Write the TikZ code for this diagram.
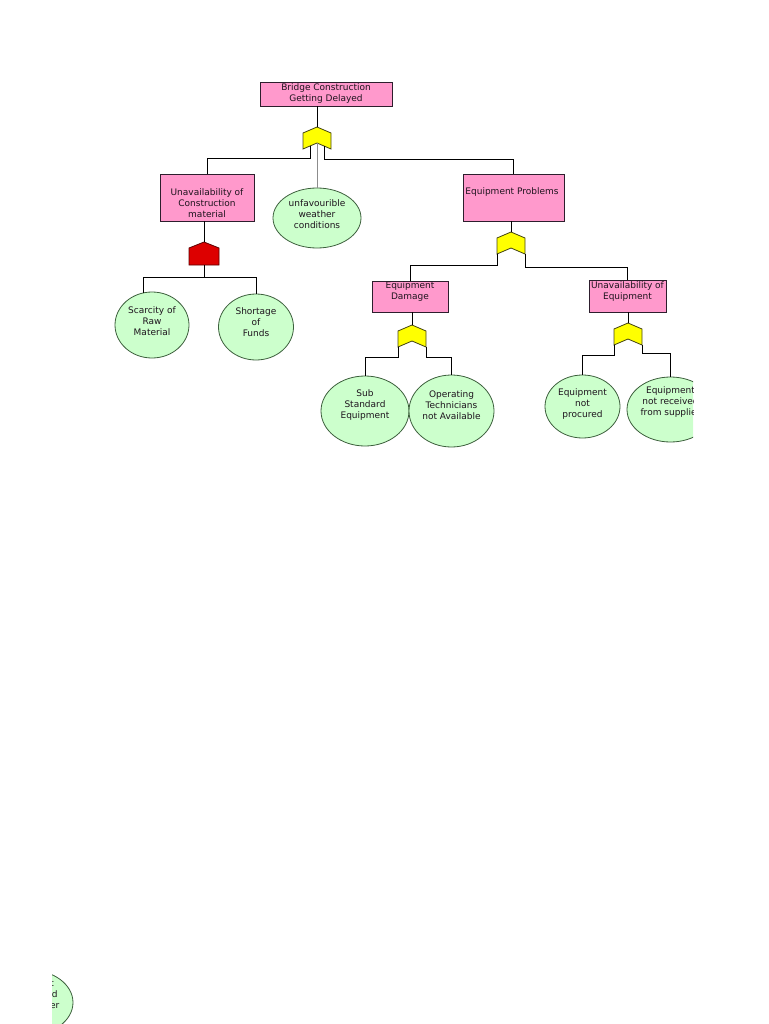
\documentclass[tikz,border=0pt]{standalone}
\usepackage{fontspec}
\setmainfont{DejaVu Sans}
\usetikzlibrary{shapes.geometric}

\begin{document}
\begin{tikzpicture}[x=1pt,y=1pt,yscale=-1,xscale=1,
  pinkbox/.style={draw={rgb, 255:red, 45; green, 30; blue, 45 },fill={rgb, 255:red, 255; green, 153; blue, 204 },line width=0.8pt,inner sep=0pt},
  leaf/.style={ellipse,draw={rgb, 255:red, 60; green, 95; blue, 60 },fill={rgb, 255:red, 204; green, 255; blue, 204 },line width=0.8pt,inner sep=0pt},
  txt/.style={font=\fontsize{9}{11}\selectfont,align=center,inner sep=0pt,text={rgb, 255:red, 30; green, 20; blue, 30 }},
  link/.style={draw=black,line width=0.8pt},
  andgate/.style={line width=0.8pt,draw={rgb, 255:red, 70; green, 70; blue, 20 },fill={rgb, 255:red, 255; green, 255; blue, 0 }},
  orgate/.style={line width=0.8pt,draw={rgb, 255:red, 90; green, 0; blue, 0 },fill={rgb, 255:red, 221; green, 0; blue, 0 }}]
\useasboundingbox (0,0) rectangle (768,1024);

%Shape: Rectangle
\node[pinkbox,minimum width=132,minimum height=24] (top) at (326,94) {};
\node[txt] (toptxt) at (326,94) {Bridge Construction\\Getting Delayed};

%Shape: Rectangle
\node[pinkbox,minimum width=94,minimum height=47] (unav) at (207,197.5) {};
\node[txt] (unavtxt) at (207,203) {Unavailability of\\Construction\\material};
%Shape: Ellipse
\node[leaf,minimum width=88,minimum height=60] (weather) at (317,218) {};
\node[txt] (weathertxt) at (317,214) {unfavourible\\weather\\conditions};
%Shape: Rectangle
\node[pinkbox,minimum width=101,minimum height=47] (eqp) at (513.5,197.5) {};
\node[txt] (eqptxt) at (512,192) {Equipment Problems};

%Shape: Ellipse
\node[leaf,minimum width=74,minimum height=66] (scar) at (152,325) {};
\node[txt] (scartxt) at (152,321) {Scarcity of\\Raw\\Material};
%Shape: Ellipse
\node[leaf,minimum width=75,minimum height=66] (funds) at (256,327) {};
\node[txt] (fundstxt) at (256,322) {Shortage\\of\\Funds};

%Shape: Rectangle
\node[pinkbox,minimum width=76,minimum height=31] (dmg) at (410,296.5) {};
\node[txt] (dmgtxt) at (410,292) {Equipment\\Damage};
%Shape: Rectangle
\node[pinkbox,minimum width=77,minimum height=32] (uneq) at (627.5,296) {};
\node[txt] (uneqtxt) at (627.5,292) {Unavailability of\\Equipment};

%Shape: Ellipse
\node[leaf,minimum width=88,minimum height=70] (sub) at (365,411) {};
\node[txt] (subtxt) at (365,405) {Sub\\Standard\\Equipment};
%Shape: Ellipse
\node[leaf,minimum width=85,minimum height=72] (oper) at (451.5,411) {};
\node[txt] (opertxt) at (451.5,405) {Operating\\Technicians\\not Available};

%Shape: Ellipse
\node[leaf,minimum width=75,minimum height=63] (proc) at (582.5,406.5) {};
\node[txt] (proctxt) at (582.5,404) {Equipment\\not\\procured};
%Shape: Ellipse (cut at the page edge)
\begin{scope}
\clip (0,0) rectangle (693,1024);
\node[leaf,minimum width=87,minimum height=65] (recv) at (670.5,409.5) {};
\node[txt] (recvtxt) at (670.5,402.5) {Equipment\\not received\\from supplier};
\end{scope}
%Shape: Ellipse (rest of it, bottom left)
\begin{scope}[shift={(-641,593)}]
\clip (693,360) rectangle (730,460);
\node[leaf,minimum width=87,minimum height=65] (recvb) at (670.5,409.5) {};
\node[txt] (recvbtxt) at (670.5,402.5) {Equipment\\not received\\from supplier};
\end{scope}

%Shape: And Gates
\foreach \g/\gx/\gy in {g1/317/127, g2/511/232, g3/412/325, g4/628/323} {
  \draw[andgate] (\gx,\gy) -- ++(14,6) -- ++(0,16) -- ++(-14,-6) -- ++(-14,6) -- ++(0,-16) -- cycle ;
  \coordinate (\g-top) at (\gx,\gy);
  \coordinate (\g-l) at (\gx-14,\gy+22);
  \coordinate (\g-r) at (\gx+14,\gy+22);
  \coordinate (\g-il) at (\gx-7,\gy+19);
  \coordinate (\g-ir) at (\gx+7,\gy+19);
  \coordinate (\g-m) at (\gx,\gy+16);
}
%Shape: Or Gate
\draw[orgate] (204,242) -- ++(15,6) -- ++(0,17) -- ++(-30,0) -- ++(0,-17) -- cycle ;
\coordinate (g0-top) at (204,242);
\coordinate (g0-bot) at (204,265);

%Straight Lines
\draw[link] (g1-top |- top.south) -- (g1-top) ;
\draw[link] (g1-il) -- ++(0,12) -| (unav.north) ;
\draw[link,draw={rgb, 255:red, 140; green, 140; blue, 140 }] (g1-m) -- (weather.north) ;
\draw[link] (g1-ir) -- ++(0,13) -| (eqp.north) ;
%Straight Lines
\draw[link] (g0-top |- unav.south) -- (g0-top) ;
\draw[link] (g0-bot) -- ++(0,12) -| (scar.105) ;
\draw[link] (g0-bot) -- ++(0,12) -| (funds.north) ;
%Straight Lines
\draw[link] (g2-top |- eqp.south) -- (g2-top) ;
\draw[link] (g2-l) -- ++(0,11) -| (dmg.north) ;
\draw[link] (g2-r) -- ++(0,13) -| (uneq.north) ;
%Straight Lines
\draw[link] (g3-top |- dmg.south) -- (g3-top) ;
\draw[link] (g3-l) -- ++(0,10) -| (sub.north) ;
\draw[link] (g3-r) -- ++(0,10) -| (oper.north) ;
%Straight Lines
\draw[link] (g4-top |- uneq.south) -- (g4-top) ;
\draw[link] (g4-l) -- ++(0,10) -| (proc.north) ;
\draw[link] (g4-r) -- ++(0,8) -| (recv.north) ;

\end{tikzpicture}
\end{document}
